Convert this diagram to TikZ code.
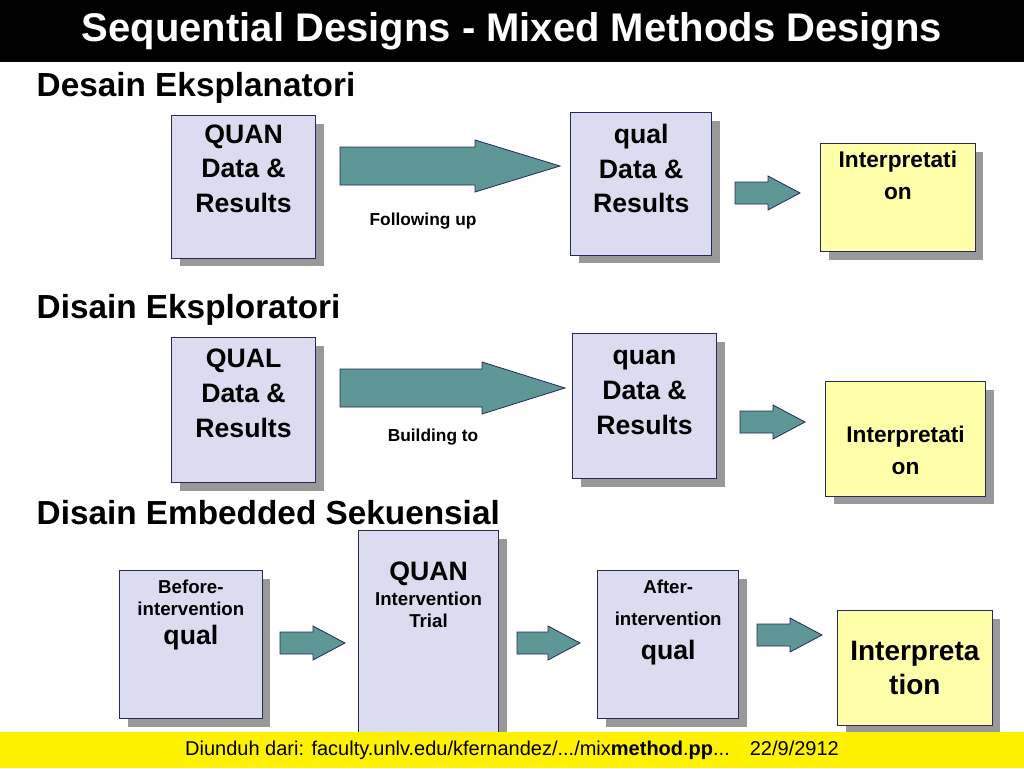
\documentclass[tikz,border=0pt]{standalone}
\usepackage{fontspec}
\setmainfont{Liberation Sans}
\usetikzlibrary{shadows}
\definecolor{lav}{RGB}{220,220,240}
\definecolor{navy}{RGB}{40,40,90}
\definecolor{pale}{RGB}{255,255,170}
\definecolor{teal}{RGB}{95,150,150}
\tikzset{
  box/.style={draw=navy, fill=lav, line width=0.8pt, anchor=north west,
    drop shadow={shadow xshift=6pt, shadow yshift=-6pt, fill=gray!80, opacity=1}},
  ybox/.style={box, fill=pale},
  txt/.style={anchor=north, align=center, font=\bfseries, inner sep=0pt},
  big/.style={font=\fontsize{20}{26}\selectfont\bfseries},
  mid/.style={font=\fontsize{14}{16.5}\selectfont\bfseries},
  sma/.style={font=\fontsize{13}{15}\selectfont\bfseries},
  head/.style={anchor=west, font=\fontsize{25}{28}\selectfont\bfseries}
}
% block arrow: x1, x2, y, half body, half head, head start
\newcommand\blockarrow[6]{%
  \draw[navy, fill=teal, line width=0.6pt] (#1,#3-#4) -- (#6,#3-#4) -- (#6,#3-#5)
    -- (#2,#3) -- (#6,#3+#5) -- (#6,#3+#4) -- (#1,#3+#4) -- cycle;}
\begin{document}
\begin{tikzpicture}[x=0.75pt,y=-0.75pt]
  \useasboundingbox (0,0) rectangle (1024,768);
  \fill[white] (0,0) rectangle (1024,768);

  % title
  \fill[black] (0,0) rectangle (1024,62);
  \node[text=white, font=\fontsize{30}{32}\selectfont\bfseries] (title) at (512,31)
    {Sequential Designs - Mixed Methods Designs};

  % row 1
  \node[head] (h1) at (32,88) {Desain Eksplanatori};
  \node[box, minimum width=108pt, minimum height=107pt] (qn1) at (171,115) {};
  \node[txt, big] at ([yshift=-7pt]qn1.north) {QUAN\\Data \&\\Results};
  \blockarrow{340}{560}{166}{19}{26}{475}
  \node[sma] (fu) at (423,221) {Following up};
  \node[box, minimum width=106pt, minimum height=107pt] (ql1) at (570,112) {};
  \node[txt, big] at ([yshift=-9pt]ql1.north) {qual\\Data \&\\Results};
  \blockarrow{735}{800}{193}{11}{17}{768}
  \node[ybox, minimum width=116pt, minimum height=81pt] (in1) at (820,143) {};
  \node[txt, font=\fontsize{17}{24}\selectfont\bfseries] at ([yshift=-6pt]in1.north) {Interpretati\\on};

  % row 2
  \node[head] (h2) at (32,310) {Disain Eksploratori};
  \node[box, minimum width=108pt, minimum height=109pt] (ql2) at (171,337) {};
  \node[txt, big] at ([yshift=-9pt]ql2.north) {QUAL\\Data \&\\Results};
  \blockarrow{340}{565}{388}{19}{26}{482}
  \node[sma] (bt) at (433,437) {Building to};
  \node[box, minimum width=108pt, minimum height=109pt] (qn2) at (572,333) {};
  \node[txt, big] at ([yshift=-13pt]qn2.north) {quan\\Data \&\\Results};
  \blockarrow{740}{805}{422}{11}{17}{773}
  \node[ybox, minimum width=120pt, minimum height=86pt] (in2) at (825,381) {};
  \node[align=center, font=\fontsize{17}{24}\selectfont\bfseries] at ([yshift=-9pt]in2.center) {Interpretati\\on};

  % row 3
  \node[head] (h3) at (32,513) {Disain Embedded Sekuensial};
  \node[box, minimum width=107pt, minimum height=111pt] (bq) at (119,570) {};
  \node[txt, mid] (bq1) at ([yshift=-7pt]bq.north) {Before-\\intervention};
  \node[txt, big] at ([yshift=-7pt]bq1.south) {qual};
  \blockarrow{280}{345}{643}{11}{17}{313}
  \node[box, minimum width=105pt, minimum height=160pt] (tr) at (358,530) {};
  \node[txt, big] (tr1) at ([yshift=-24pt]tr.north) {QUAN};
  \node[txt, mid] at ([yshift=-4pt]tr1.south) {Intervention\\Trial};
  \blockarrow{517}{580}{643}{11}{17}{548}
  \node[box, minimum width=106pt, minimum height=111pt] (aq) at (597,570) {};
  \node[txt, mid] (aq1) at ([yshift=-7pt]aq.north) {After-\\[8pt]intervention};
  \node[txt, big] at ([yshift=-10pt]aq1.south) {qual};
  \blockarrow{757}{822}{635}{11}{17}{790}
  \node[ybox, minimum width=116pt, minimum height=86pt] (in3) at (837,610) {};
  \node[align=center, font=\fontsize{21}{26}\selectfont\bfseries] at (in3.center) {Interpreta\\tion};

  % footer
  \fill[yellow] (0,732) rectangle (1024,768);
  \node[font=\fontsize{15}{17}\selectfont] (src) at (512,750)
    {Diunduh dari: faculty.unlv.edu/kfernandez/.../mix\textbf{method}.\textbf{pp}...\quad 22/9/2912};
\end{tikzpicture}
\end{document}
